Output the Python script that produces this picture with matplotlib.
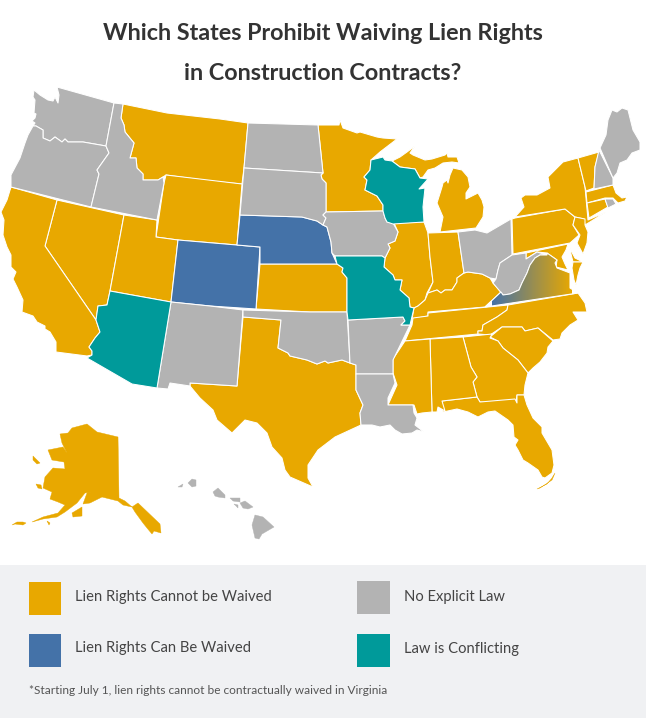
import numpy as np
import matplotlib
matplotlib.use("Agg")
import matplotlib.pyplot as plt
from matplotlib.patches import Polygon, Rectangle
from matplotlib.colors import LinearSegmentedColormap

# state outlines in pixels
WA = [(57,87),(114,103),(106,146),(83,142),(68,142),(65,139),(62,142),(55,137),(50,141),(43,138),(43,130),(36,126),(33,126),(35,123),(32,121),(35,118),(36,114),(34,113),(35,100),(33,97),(34,90),(40,95),(48,100),(53,101),(55,97),(58,103),(59,95)]
OR = [(33,126),(36,126),(43,130),(43,138),(50,141),(55,137),(62,142),(65,139),(68,142),(83,142),(106,146),(109,153),(97,170),(99,174),(91,207),(11,187),(11,175),(20,158),(25,143),(28,135)]
ID = [(114,103),(123,104),(121,118),(124,125),(125,132),(134,143),(130,158),(136,158),(137,168),(143,174),(143,180),(158,180),(163,177),(164,183),(157,220),(91,207),(99,174),(97,170),(109,153),(106,146)]
MT = [(123,104),(167,113),(220,119),(248,123),(244,168),(242,184),(210,181),(166,175),(163,177),(158,180),(143,180),(143,174),(137,168),(136,158),(130,158),(134,143),(125,132),(124,125),(121,118)]
WY = [(166,175),(242,184),(237,245),(178,240),(156,237),(164,183)]
CO = [(178,240),(260,247),(256,309),(210,306),(171,302)]
NV = [(57,200),(124,215),(110,291),(107,305),(98,306),(96,320),(45,246)]
CA = [(11,187),(57,200),(45,246),(96,320),(100,332),(95,338),(89,347),(92,351),(92,355),(87,356),(56,352),(56,342),(50,332),(45,329),(45,326),(37,322),(33,316),(22,312),(23,300),(17,287),(13,279),(16,272),(11,267),(11,255),(7,247),(3,235),(4,220),(1,212),(7,200)]
UT = [(124,215),(157,220),(156,237),(178,240),(171,302),(110,291)]
AZ = [(110,291),(171,302),(157,388),(132,384),(87,358),(92,355),(92,351),(89,347),(95,338),(100,332),(96,320),(98,306),(107,305)]
NM = [(171,302),(210,306),(243,310),(237,386),(190,383),(190,386),(170,383),(168,389),(157,388)]
ND = [(248,123),(318,125),(323,173),(244,168)]
SD = [(244,168),(323,173),(321,175),(322,179),(326,183),(326,212),(323,215),(326,218),(323,225),(317,221),(302,217),(240,215)]
NE = [(240,215),(302,217),(317,221),(323,225),(327,227),(331,242),(332,253),(337,264),(260,264),(260,247),(237,245)]
KS = [(260,264),(337,264),(343,268),(342,272),(347,278),(347,312),(310,312),(256,309)]
OK = [(243,310),(310,312),(347,312),(350,363),(342,360),(328,363),(325,361),(317,364),(307,360),(290,356),(288,353),(278,348),(281,320),(243,317)]
TX = [(243,317),(281,320),(278,348),(288,353),(290,356),(307,360),(317,364),(325,361),(328,363),(342,360),(350,363),(356,365),(356,390),(363,405),(360,413),(361,425),(335,437),(318,450),(308,465),(308,478),(313,487),(290,477),(285,470),(282,458),(272,447),(267,433),(257,423),(245,420),(232,433),(217,420),(213,410),(200,398),(190,386),(190,383),(237,386)]
IA = [(326,212),(383,211),(385,218),(387,222),(393,223),(398,232),(395,241),(388,244),(390,248),(385,258),(382,256),(335,256),(332,253),(331,242),(327,227),(323,225),(326,218),(323,215)]
MO = [(335,256),(382,256),(385,258),(384,267),(393,275),(395,280),(402,280),(400,290),(409,298),(410,307),(414,308),(410,325),(401,325),(405,321),(403,317),(348,320),(347,312),(347,278),(342,272),(343,268),(337,264)]
AR = [(348,320),(403,317),(405,321),(401,325),(410,325),(393,360),(393,374),(356,374),(356,365),(350,363)]
LA = [(356,374),(393,374),(395,383),(388,398),(388,405),(413,405),(414,413),(417,418),(415,425),(424,432),(417,430),(412,433),(402,434),(395,430),(390,425),(380,427),(372,425),(361,425),(360,413),(363,405),(356,390)]
MN = [(318,125),(339,125),(340,120),(343,128),(357,133),(360,132),(377,137),(383,138),(397,139),(380,152),(371,160),(370,170),(364,177),(367,180),(365,190),(377,196),(383,205),(383,211),(326,212),(326,183),(322,179),(321,175),(323,173)]
WI = [(371,160),(383,157),(385,160),(392,161),(400,167),(415,169),(420,178),(428,179),(419,189),(425,188),(423,207),(424,222),(393,224),(387,222),(385,218),(383,211),(383,205),(377,196),(365,190),(367,180),(364,177),(370,170)]
MI_UP = [(392,161),(400,157),(407,152),(415,146),(410,153),(413,155),(425,160),(432,159),(445,155),(447,153),(448,157),(457,157),(459,163),(452,162),(443,163),(435,168),(428,170),(423,177),(420,178),(415,169),(400,167)]
MI_LP = [(453,168),(462,170),(468,177),(470,187),(466,193),(466,199),(478,193),(482,200),(484,207),(483,217),(476,228),(440,232),(443,217),(437,203),(442,187),(443,183),(447,180),(448,183),(450,175)]
IL = [(394,223),(424,222),(428,233),(430,257),(433,282),(427,293),(425,300),(418,306),(414,308),(410,307),(409,298),(400,290),(402,280),(395,280),(393,275),(384,267),(385,258),(390,248),(388,244),(395,241),(398,232)]
IN = [(428,233),(458,232),(464,273),(457,278),(457,282),(452,290),(445,290),(441,293),(437,290),(428,293),(433,282),(430,257)]
OH = [(458,232),(475,230),(487,233),(511,219),(512,255),(500,263),(498,270),(496,279),(490,278),(482,274),(468,272),(464,273)]
KY = [(464,273),(468,272),(482,274),(490,278),(493,283),(501,292),(485,307),(428,312),(428,316),(412,319),(414,308),(418,306),(425,300),(428,293),(437,290),(441,293),(445,290),(452,290),(457,282),(457,278)]
WV = [(512,255),(526,253),(526,259),(537,252),(547,255),(540,255),(535,258),(530,265),(527,273),(522,283),(519,290),(510,294),(503,295),(493,283),(496,279),(498,270),(500,263)]
VA = [(485,307),(578,293),(570,288),(570,273),(557,268),(555,263),(557,260),(547,253),(547,255),(540,255),(535,258),(530,265),(527,273),(522,283),(519,290),(510,294),(503,295),(501,292)]
PA = [(512,219),(515,218),(565,209),(575,217),(573,225),(579,235),(570,243),(513,254)]
NY = [(515,217),(524,207),(521,198),(525,195),(537,195),(550,188),(548,177),(563,162),(578,158),(585,187),(588,220),(606,212),(590,222),(585,225),(584,219),(575,217),(565,209)]
NJ = [(575,217),(585,219),(585,225),(588,232),(587,243),(583,254),(577,243),(580,235),(573,225)]
DE = [(568,245),(575,258),(583,262),(573,262),(570,250)]
MD = [(526,253),(568,244),(566,250),(562,257),(565,264),(568,270),(556,267),(557,260),(547,253),(537,252),(526,259)]
DELMARVA = [(573,262),(583,262),(580,268),(578,275),(576,285),(574,280),(572,268)]
VT = [(578,158),(599,152),(595,167),(594,188),(586,191)]
NH = [(599,150),(613,178),(613,185),(594,189),(595,167)]
ME = [(600,148),(606,135),(608,120),(612,110),(617,112),(622,108),(628,110),(633,130),(640,142),(640,150),(632,153),(627,160),(620,163),(617,173),(613,178)]
MA = [(586,192),(613,185),(616,193),(622,198),(627,197),(626,193),(628,195),(625,201),(618,203),(613,198),(605,198),(587,203)]
CT = [(587,203),(605,199),(608,207),(589,218)]
RI = [(605,199),(613,199),(616,204),(608,208)]
TN = [(413,318),(428,316),(428,313),(508,305),(507,310),(497,317),(483,325),(482,331),(478,331),(478,334),(405,341),(412,325)]
NC = [(508,305),(578,293),(585,303),(587,312),(573,312),(578,320),(570,325),(562,333),(560,339),(553,340),(538,328),(525,331),(522,327),(502,327),(490,335),(478,334),(478,331),(482,331),(483,325),(497,317),(507,310)]
SC = [(490,337),(502,327),(522,327),(525,331),(538,328),(553,341),(548,347),(547,353),(540,362),(533,368),(528,373),(518,360),(503,348),(498,341)]
GA = [(463,337),(492,334),(490,338),(498,341),(503,348),(518,360),(528,373),(525,385),(524,395),(517,395),(516,403),(480,402),(477,397),(473,382),(477,377),(471,367)]
FL = [(442,401),(477,397),(480,402),(515,399),(517,403),(517,395),(524,395),(527,405),(533,418),(542,427),(542,433),(552,450),(554,465),(552,473),(545,478),(542,477),(538,470),(528,463),(523,460),(518,450),(515,445),(518,440),(514,437),(513,425),(508,420),(495,411),(488,412),(478,417),(468,412),(457,409),(443,412)]
AL = [(430,339),(463,337),(471,367),(477,377),(473,382),(477,397),(442,401),(445,411),(438,407),(437,412),(432,412)]
MS = [(405,341),(430,339),(432,412),(422,413),(417,414),(414,405),(388,405),(397,385),(393,373),(393,359)]

# drawn without the white border, they are too small for it
FL_KEYS = [(555,473),(552,480),(540,488),(537,489),(547,484),(552,478)]
AK = [(60,434),(68,433),(72,428),(87,424),(97,432),(118,437),(119,498),(125,501),(132,507),(138,503),(160,524),(161,533),(154,531),(152,534),(147,528),(143,523),(135,512),(132,507),(123,505),(118,501),(102,497),(98,499),(90,503),(83,504),(87,493),(91,492),(85,493),(77,503),(65,512),(57,517),(43,519),(32,522),(43,517),(58,513),(65,505),(58,502),(50,499),(52,492),(43,488),(45,477),(53,468),(65,469),(64,462),(52,460),(48,450),(63,447),(67,453),(62,443)]
AK_KODIAK = [(72,513),(82,507),(82,516),(73,517)]
AK_LAWRENCE = [(33,456),(40,463),(37,464),(33,460)]
AK_NUNIVAK = [(36,484),(41,485),(42,489),(38,488)]
AK_ALEUT = [(12,525),(17,522),(23,522),(26,523),(23,525),(15,524)]
AK_ALEUT2 = [(47,521),(50,523),(49,525)]
HI_NIIHAU = [(178,487),(183,484),(182,487)]
HI_KAUAI = [(188,483),(192,479),(196,480),(196,486),(192,487)]
HI_OAHU = [(213,492),(218,488),(225,495),(225,498),(218,497),(215,496)]
HI_MOLOKAI = [(230,498),(240,498),(240,502),(233,501)]
HI_LANAI = [(234,504),(238,505),(238,508)]
HI_MAUI = [(240,503),(245,501),(253,507),(248,509),(243,508)]
HI_BIG = [(255,515),(263,517),(274,527),(262,534),(259,539),(255,538),(252,525)]

# which state falls in which group
cannot_waive = [MT, WY, NV, CA, UT, KS, TX, MN, MI_UP, MI_LP, IL, IN, KY, PA, NY, NJ, DE, MD, DELMARVA, VT, MA, CT, TN, NC, SC, GA, FL, AL, MS]
can_waive = [CO, NE]
no_law = [WA, OR, ID, NM, ND, SD, OK, IA, AR, LA, OH, WV, NH, ME, RI]
conflicting = [AZ, MO, WI]
cannot_waive_small = [FL_KEYS, AK, AK_KODIAK, AK_LAWRENCE, AK_NUNIVAK, AK_ALEUT, AK_ALEUT2]
no_law_small = [HI_NIIHAU, HI_KAUAI, HI_OAHU, HI_MOLOKAI, HI_LANAI, HI_MAUI, HI_BIG]

title_lines = ["Which States Prohibit Waiving Lien Rights", "in Construction Contracts?"]
legend_labels = ["Lien Rights Cannot be Waived", "Lien Rights Can Be Waived", "No Explicit Law", "Law is Conflicting"]
footnote = "*Starting July 1, lien rights cannot be contractually waived in Virginia"

ORANGE = "#e8a800"
BLUE = "#4472a8"
GRAY = "#b3b3b3"
TEAL = "#009a9a"

fig = plt.figure(figsize=(6.46, 7.18), dpi=100)
ax = fig.add_axes([0, 0, 1, 1])
ax.axis("off")

for group, color in [(cannot_waive, ORANGE), (can_waive, BLUE), (no_law, GRAY), (conflicting, TEAL)]:
    for shape in group:
        ax.add_patch(Polygon(shape, closed=True, facecolor=color, edgecolor="white", linewidth=0.75, joinstyle="round", zorder=2))
for group, color in [(cannot_waive_small, ORANGE), (no_law_small, GRAY)]:
    for shape in group:
        ax.add_patch(Polygon(shape, closed=True, facecolor=color, edgecolor=color, linewidth=0.3, zorder=2))

# Virginia fades from one group to the other
cmap = LinearSegmentedColormap.from_list("va", [BLUE, ORANGE])
grad = np.linspace(0, 1, 256).reshape(1, -1)
va_patch = Polygon(VA, closed=True, facecolor="none", edgecolor="white", linewidth=0.75, zorder=4)
ax.add_patch(va_patch)
im = ax.imshow(grad, cmap=cmap, extent=(492, 572, 310, 250), aspect="auto", zorder=3)
im.set_clip_path(va_patch)

ax.set_xlim(0, 646)
ax.set_ylim(718, 0)

for y, line in zip([33, 73], title_lines):
    ax.text(323, y, line, ha="center", va="center", fontsize=16.8, fontweight="bold", family="Lato", color="#333333")

ax.add_patch(Rectangle((0, 565), 646, 153, facecolor="#f0f1f3", edgecolor="none", zorder=1))
swatches = [(28.5, 582, ORANGE), (28.5, 634, BLUE), (357, 581, GRAY), (357, 634, TEAL)]
text_pos = [(75, 597), (75, 648), (404, 597), (404, 649)]
for (x, y, color), (tx, ty), label in zip(swatches, text_pos, legend_labels):
    ax.add_patch(Rectangle((x, y), 32.5, 32.5, facecolor=color, edgecolor="none", zorder=2))
    ax.text(tx, ty, label, ha="left", va="center", fontsize=10.65, family="Lato", color="#444444", zorder=3)
ax.text(29, 691, footnote, ha="left", va="center", fontsize=8.55, family="Lato", color="#555555", zorder=3)

fig.savefig("out.png", dpi=100)
